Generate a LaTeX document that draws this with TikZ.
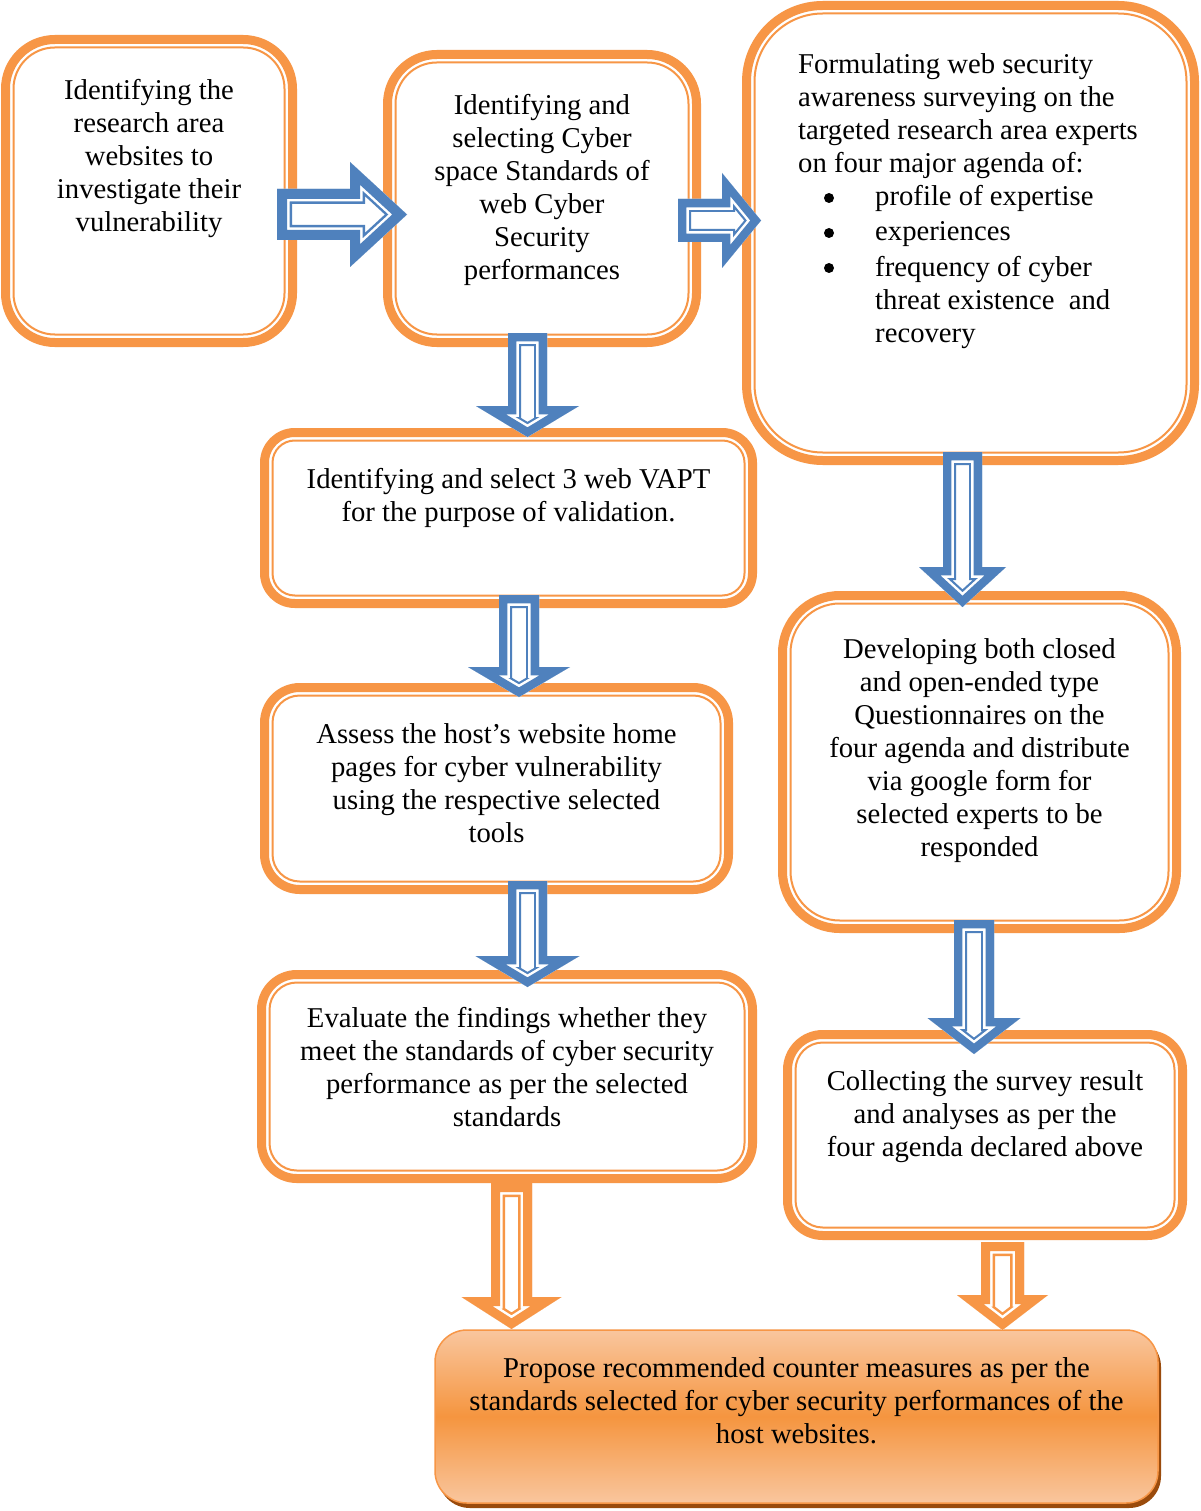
\documentclass[tikz,border=0pt]{standalone}
\usepackage{fontspec}
\setmainfont{Liberation Serif}
\usetikzlibrary{calc}
\definecolor{orng}{HTML}{F79646}
\definecolor{blu}{HTML}{4F81BD}
\definecolor{shad}{HTML}{9A4B0C}
\definecolor{pchtop}{HTML}{F9C69E}
\definecolor{pchmid}{HTML}{F5953F}
\tikzset{
  oout/.style={draw=orng, line width=9pt, inner sep=0pt, fill=white},
  oin/.style={draw=orng, line width=2pt, inner sep=0pt},
  txt/.style={inner sep=0pt, font=\fontsize{28.7}{33}\selectfont, align=center, anchor=north},
  ltxt/.style={inner sep=0pt, font=\fontsize{28.7}{33}\selectfont, align=left, anchor=north west},
  btxt/.style={inner sep=0pt, font=\fontsize{28.7}{33}\selectfont, anchor=base west},
  bul/.style={circle, fill=black, inner sep=0pt, minimum size=10pt},
}
% name, x1, y1, x2, y2, R
\newcommand\obox[6]{%
  \node[oout, minimum width={#4-#2-9}, minimum height={#5-#3-9}, rounded corners={#6+2.25}] (#1) at ({(#2+#4)/2},{(#3+#5)/2}) {};
  \node[oin, minimum width={#4-#2-25}, minimum height={#5-#3-25}, rounded corners={#6-5.75}] (#1i) at (#1.center) {};}
% color, w1, w2, w3, path
\newcommand\blockarrow[5]{%
  \begin{scope}
    \clip #5;
    \fill[white] #5;
    \draw[#1, line width=#2] #5;
    \draw[white, line width=#3] #5;
    \draw[#1, line width=#4] #5;
  \end{scope}}
\begin{document}
\begin{tikzpicture}[x=1pt,y=-1pt]
\useasboundingbox (0,0) rectangle (1200,1511);
\fill[white] (0,0) rectangle (1200,1511);

% boxes
\obox{b1}{1}{35}{297}{347}{47}
\obox{b2}{383}{50}{701}{347}{47}
\obox{b3}{742}{1}{1199}{465}{74}
\obox{b4}{260}{428}{757}{608}{28}
\obox{b5}{260}{683}{733}{894}{33}
\obox{b6}{257}{970}{757}{1183}{33}
\obox{b7}{778}{591}{1181}{933}{55}
\obox{b8}{783}{1030}{1187}{1240}{33}

% final box
\fill[shad, rounded corners=32] (438,1335) rectangle (1161,1508);
\node[draw=orng, line width=1.5pt, top color=pchtop, bottom color=pchtop, middle color=pchmid,
      rounded corners=32, minimum width=723, minimum height=173, inner sep=0pt] (b9) at (796.5,1416.5) {};

% texts
\node[txt] (t1) at (149,{99-23.1}) {\strut Identifying the\\research area\\websites to\\investigate their\\vulnerability};
\node[txt] (t2) at (542,{114-23.1}) {\strut Identifying and\\selecting Cyber\\space Standards of\\web Cyber\\Security\\performances};
\node[ltxt] (t3) at (798,{73-23.1}) {\strut Formulating web security\\awareness surveying on the\\targeted research area experts\\on four major agenda of:};
\node[bul] (u1) at (829,198) {};
\node[btxt] (t3a) at (875,206) {profile of expertise};
\node[bul] (u2) at (829,233) {};
\node[btxt] (t3b) at (875,241) {experiences};
\node[bul] (u3) at (829,268) {};
\node[ltxt] (t3c) at (875,{276-23.1}) {\strut frequency of cyber\\threat existence\ \ and\\recovery};
\node[txt] (t4) at (508.5,{488-23.1}) {\strut Identifying and select 3 web VAPT\\for the purpose of validation.};
\node[txt] (t5) at (496.5,{743-23.1}) {\strut Assess the host’s website home\\pages for cyber vulnerability\\using the respective selected\\tools};
\node[txt] (t6) at (507,{1027-23.1}) {\strut Evaluate the findings whether they\\meet the standards of cyber security\\performance as per the selected\\standards};
\node[txt] (t7) at (979.5,{658-23.1}) {\strut Developing both closed\\and open-ended type\\Questionnaires on the\\four agenda and distribute\\via google form for\\selected experts to be\\responded};
\node[txt] (t8) at (985,{1090-23.1}) {\strut Collecting the survey result\\and analyses as per the\\four agenda declared above};
\node[txt] (t9) at (796.5,{1377-23.1}) {\strut Propose recommended counter measures as per the\\standards selected for cyber security performances of the\\host websites.};

% arrows
\blockarrow{blu}{30}{25}{20}{(277,189) -- (350,189) -- (350,162) -- (407,214.5) -- (350,267) -- (350,240) -- (277,240) -- cycle}
\blockarrow{blu}{26}{21.6}{16.6}{(678,199) -- (722,199) -- (722,173) -- (761,220.5) -- (722,268) -- (722,242) -- (678,242) -- cycle}
\blockarrow{blu}{26}{21.6}{16.6}{(508,333) -- (547,333) -- (547,406) -- (579,406) -- (527.5,437) -- (476,406) -- (508,406) -- cycle}
\blockarrow{blu}{26}{21.6}{16.6}{(499,595) -- (539,595) -- (539,667) -- (570,667) -- (519,697) -- (468,667) -- (499,667) -- cycle}
\blockarrow{blu}{26}{21.6}{16.6}{(508,881) -- (547,881) -- (547,956) -- (579.5,956) -- (527.5,987) -- (475.5,956) -- (508,956) -- cycle}
\blockarrow{blu}{26}{21.6}{16.6}{(943,452) -- (982,452) -- (982,567) -- (1006,567) -- (962.5,607) -- (919,567) -- (943,567) -- cycle}
\blockarrow{blu}{26}{21.6}{16.6}{(954,920) -- (994,920) -- (994,1018) -- (1020.5,1018) -- (974,1054) -- (927.5,1018) -- (954,1018) -- cycle}
\blockarrow{orng}{28}{23}{18}{(491,1183) -- (532,1183) -- (532,1297) -- (561.5,1297) -- (511.5,1329) -- (461.5,1297) -- (491,1297) -- cycle}
\blockarrow{orng}{28}{23}{18}{(981,1242) -- (1024,1242) -- (1024,1295) -- (1048,1295) -- (1002.5,1330) -- (957,1295) -- (981,1295) -- cycle}
\end{tikzpicture}
\end{document}
